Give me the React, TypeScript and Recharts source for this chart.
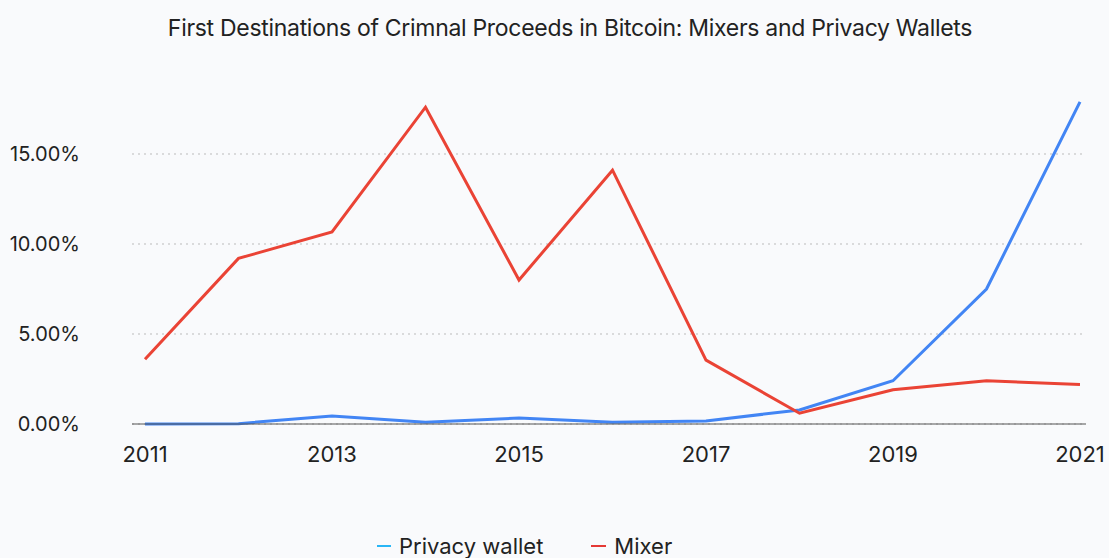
import React from 'react';
import { LineChart, Line, XAxis, YAxis, CartesianGrid } from 'recharts';

const years = ['2011', '2012', '2013', '2014', '2015', '2016', '2017', '2018', '2019', '2020', '2021'];
const privacyWallet = [0, 0.02, 0.45, 0.1, 0.33, 0.1, 0.17, 0.78, 2.4, 7.5, 17.9];
const mixer = [3.6, 9.2, 10.67, 17.6, 8.0, 14.1, 3.55, 0.6, 1.9, 2.4, 2.2];
const yTicks = [0, 5, 10, 15];
const xTicks = ['2011', '2013', '2015', '2017', '2019', '2021'];

const data = years.map((year, i) => ({
  year,
  privacy: privacyWallet[i],
  mixer: mixer[i],
}));

const FONT = 'Inter, "Noto Sans", sans-serif';

const App = () => {
  return (
    <div style={{ position: 'absolute', left: 0, top: 0, width: 1109, height: 558, background: '#f9fafc', overflow: 'hidden' }}>
      <div
        style={{
          position: 'absolute',
          top: 14,
          left: 0,
          width: 1140,
          textAlign: 'center',
          fontFamily: FONT,
          fontSize: 23,
          color: '#222',
          letterSpacing: -0.3,
        }}
      >
        First Destinations of Crimnal Proceeds in Bitcoin: Mixers and Privacy Wallets
      </div>
      <LineChart width={1109} height={558} data={data} margin={{ top: 64, right: 23, bottom: 104, left: 0 }}>
        <CartesianGrid vertical={false} horizontalValues={yTicks} stroke="#bbb" strokeDasharray="2 4" />
        <XAxis
          dataKey="year"
          ticks={xTicks}
          interval={0}
          height={30}
          padding={{ left: 13, right: 6 }}
          tickLine={false}
          axisLine={{ stroke: '#555', strokeWidth: 1 }}
          tick={{ fill: '#222', fontSize: 22, fontFamily: FONT }}
          tickMargin={16}
        />
        <YAxis
          width={132}
          domain={[0, 20]}
          ticks={yTicks}
          tickLine={false}
          axisLine={false}
          tickSize={0}
          tickMargin={52}
          tickFormatter={(v: number) => `${v.toFixed(2)}%`}
          tick={{ fill: '#222', fontSize: 20, fontFamily: FONT }}
        />
        <Line
          type="linear"
          dataKey="privacy"
          name="Privacy wallet"
          stroke="#4285f4"
          strokeWidth={3}
          dot={false}
          isAnimationActive={false}
        />
        <Line
          type="linear"
          dataKey="mixer"
          name="Mixer"
          stroke="#ea4335"
          strokeWidth={3}
          dot={false}
          isAnimationActive={false}
        />
      </LineChart>
      <div
        style={{
          position: 'absolute',
          top: 533,
          left: 377,
          display: 'flex',
          fontFamily: FONT,
          fontSize: 22,
          color: '#222',
        }}
      >
        <div style={{ display: 'flex', alignItems: 'center', marginRight: 48 }}>
          <span style={{ width: 14, height: 2, background: '#29b6f6', marginRight: 8, display: 'inline-block' }} />
          <span>Privacy wallet</span>
        </div>
        <div style={{ display: 'flex', alignItems: 'center' }}>
          <span style={{ width: 15, height: 2, background: '#e53935', marginRight: 8, display: 'inline-block' }} />
          <span>Mixer</span>
        </div>
      </div>
    </div>
  );
};

export default App;
